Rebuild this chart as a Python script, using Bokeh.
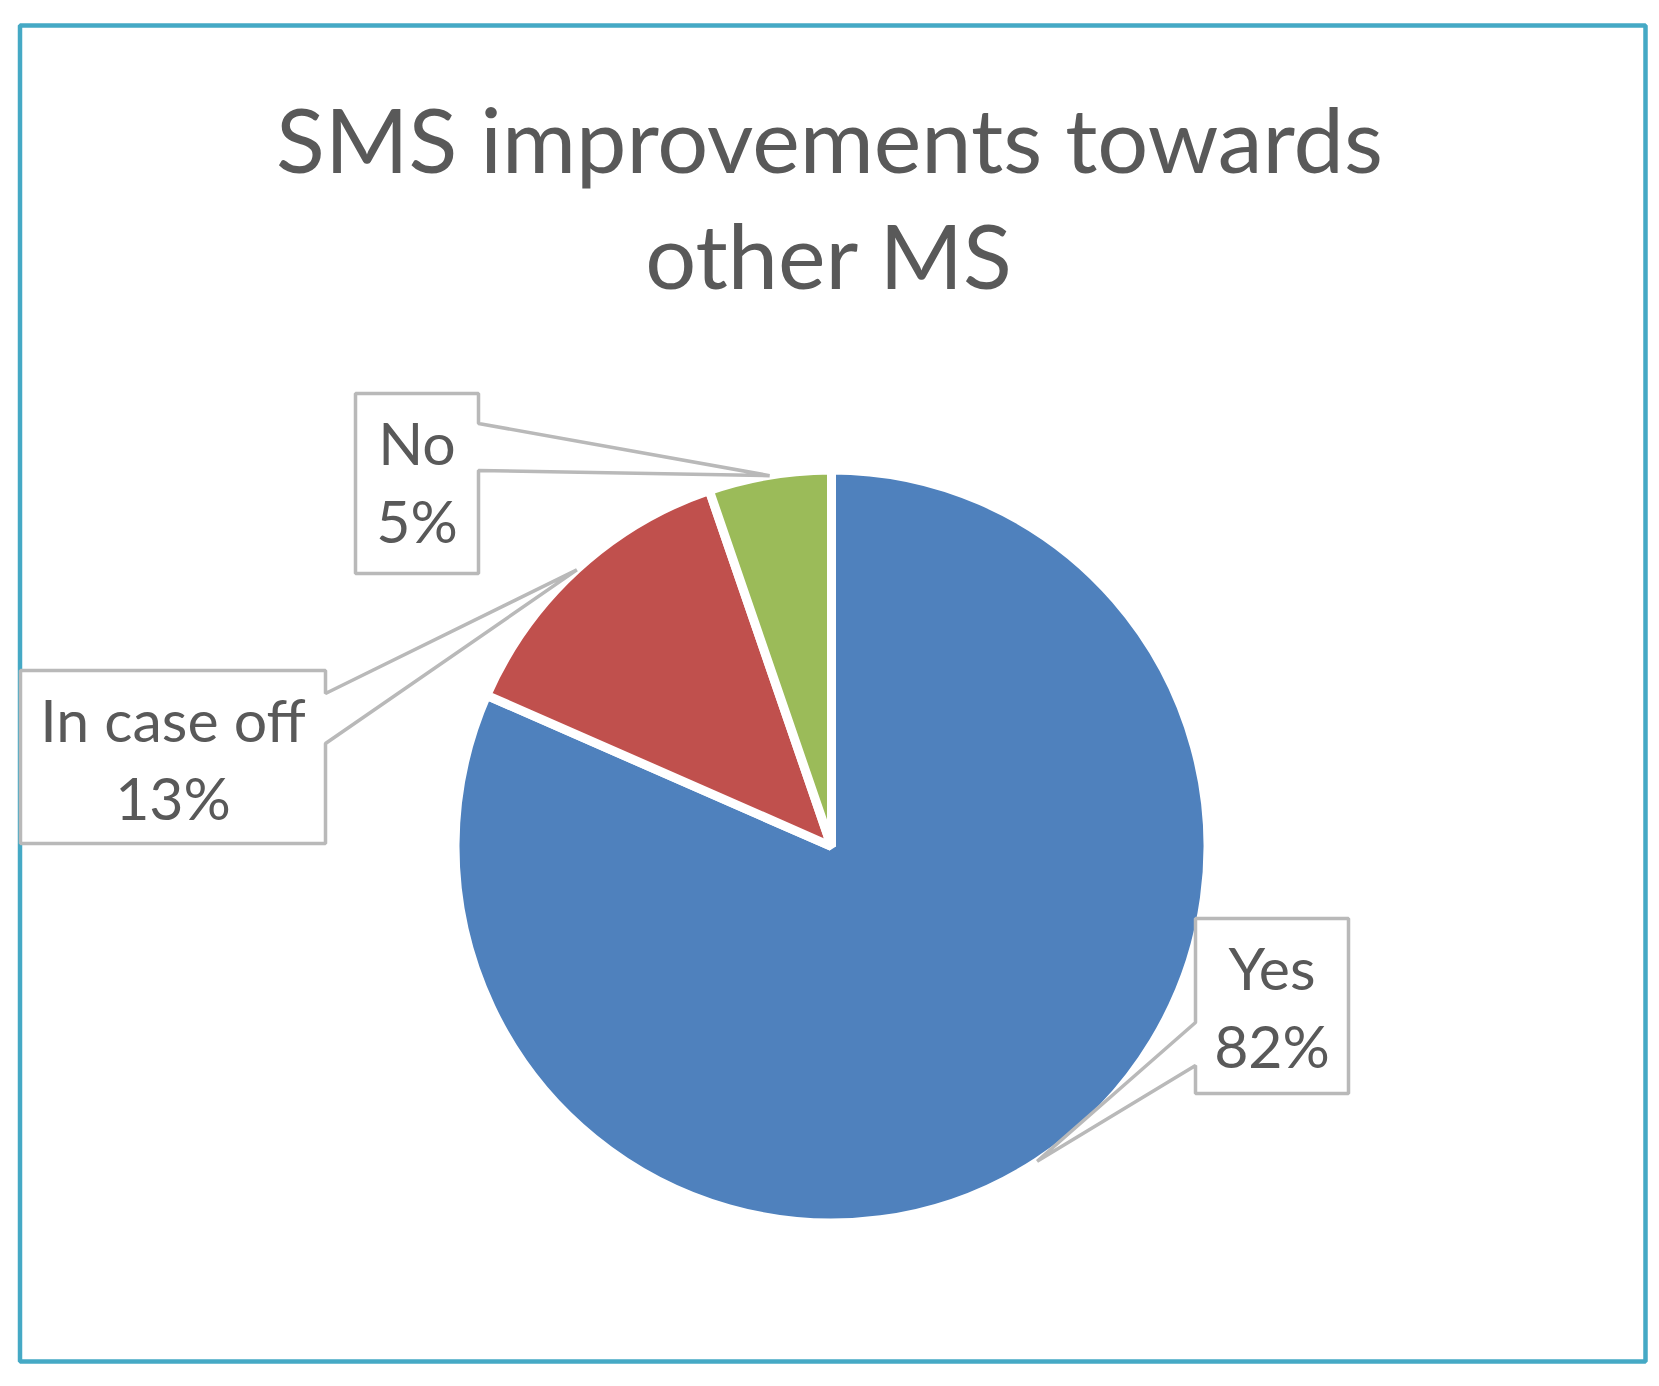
import numpy as np
from bokeh.plotting import figure
from bokeh.models import Range1d, Label, ColumnDataSource
from bokeh.core.properties import value
from bokeh.embed import file_html
from bokeh.resources import INLINE

# ---- data ----
title_lines = ["SMS improvements towards", "other MS"]
categories = ["Yes", "In case off", "No"]
counts = [31, 5, 2]
pct_labels = ["82%", "13%", "5%"]
colors = ["#4F81BD", "#C0504D", "#9BBB59"]

# ---- layout (reference pixel coordinates) ----
W, H = 1655, 1382
PIE_CX, PIE_CY, PIE_R = 831, 846, 372
SEP_W = 9
# label boxes: left, top, right, bottom, notch side, notch top, notch bottom
box_layout = [
    (1195, 918, 1348, 1093, "left", 1022, 1065),
    (20, 670, 325, 843, "right", 693, 743),
    (355, 393, 478, 573, "right", 423, 470),
]
LABEL_FS = 59
TITLE_FS = 90
line1_offset = 71   # baseline of first label line below box top
line_gap = 78

def X(rx):
    return rx

def Y(ry):
    return H - ry

p = figure(width=W, height=H, x_range=Range1d(0, W), y_range=Range1d(0, H),
           output_backend="svg", toolbar_location=None,
           x_axis_location=None, y_axis_location=None, min_border=0,
           outline_line_color=None, background_fill_color="white",
           border_fill_color="white")
p.grid.visible = False

# chart border
p.quad(left=X(19.5), right=X(1645), top=Y(25), bottom=Y(1361),
       fill_color=None, line_color="#45A9C5", line_width=4.5)

# pie
vals = np.array(counts, dtype=float)
fr = vals / vals.sum()
cum = np.concatenate([[0], np.cumsum(fr)[:-1]])
start = np.pi / 2 - 2 * np.pi * cum
end = start - 2 * np.pi * fr
src = ColumnDataSource(dict(start=start, end=end, color=colors, cat=categories))
p.wedge(x=X(PIE_CX), y=Y(PIE_CY), radius=PIE_R + SEP_W / 2, start_angle="start",
        end_angle="end", direction="clock", fill_color="color", line_color="white",
        line_width=SEP_W, source=src)

# callouts
mid = 2 * np.pi * (cum + fr / 2)   # clockwise from top
xs, ys = [], []
tx, ty1, ty2 = [], [], []
corr = 0.38 * LABEL_FS
for i, (l, t, r, b, side, n1, n2) in enumerate(box_layout):
    tipx = PIE_CX + (PIE_R + 4) * np.sin(mid[i])
    tipy = PIE_CY - (PIE_R + 4) * np.cos(mid[i])
    if side == "right":
        pts = [(l, t), (r, t), (r, n1), (tipx, tipy), (r, n2), (r, b), (l, b)]
    else:
        pts = [(l, t), (r, t), (r, b), (l, b), (l, n2), (tipx, tipy), (l, n1)]
    xs.append([X(a) for a, _ in pts])
    ys.append([Y(c) for _, c in pts])
    tx.append(X((l + r) / 2))
    ty1.append(Y(t + line1_offset - corr))
    ty2.append(Y(t + line1_offset + line_gap - corr))

p.patches(xs=xs, ys=ys, fill_color="white", line_color="#B9B9B9", line_width=3.5)
p.text(x=tx, y=ty1, text=categories, text_font=value("Lato"),
       text_font_size=f"{LABEL_FS}px", text_color="#595959", text_align="center",
       text_baseline="alphabetic")
p.text(x=tx, y=ty2, text=pct_labels, text_font=value("Lato"),
       text_font_size=f"{LABEL_FS}px", text_color="#595959", text_align="center",
       text_baseline="alphabetic")

# title
tcorr = 0.38 * TITLE_FS
for line, ry in zip(title_lines, [172, 288]):
    p.add_layout(Label(x=X(829), y=Y(ry - tcorr), text=line, text_font="Lato",
                       text_font_size=f"{TITLE_FS}px", text_color="#595959",
                       text_align="center", text_baseline="alphabetic"))

open("out.html", "w").write(file_html(p, INLINE))
